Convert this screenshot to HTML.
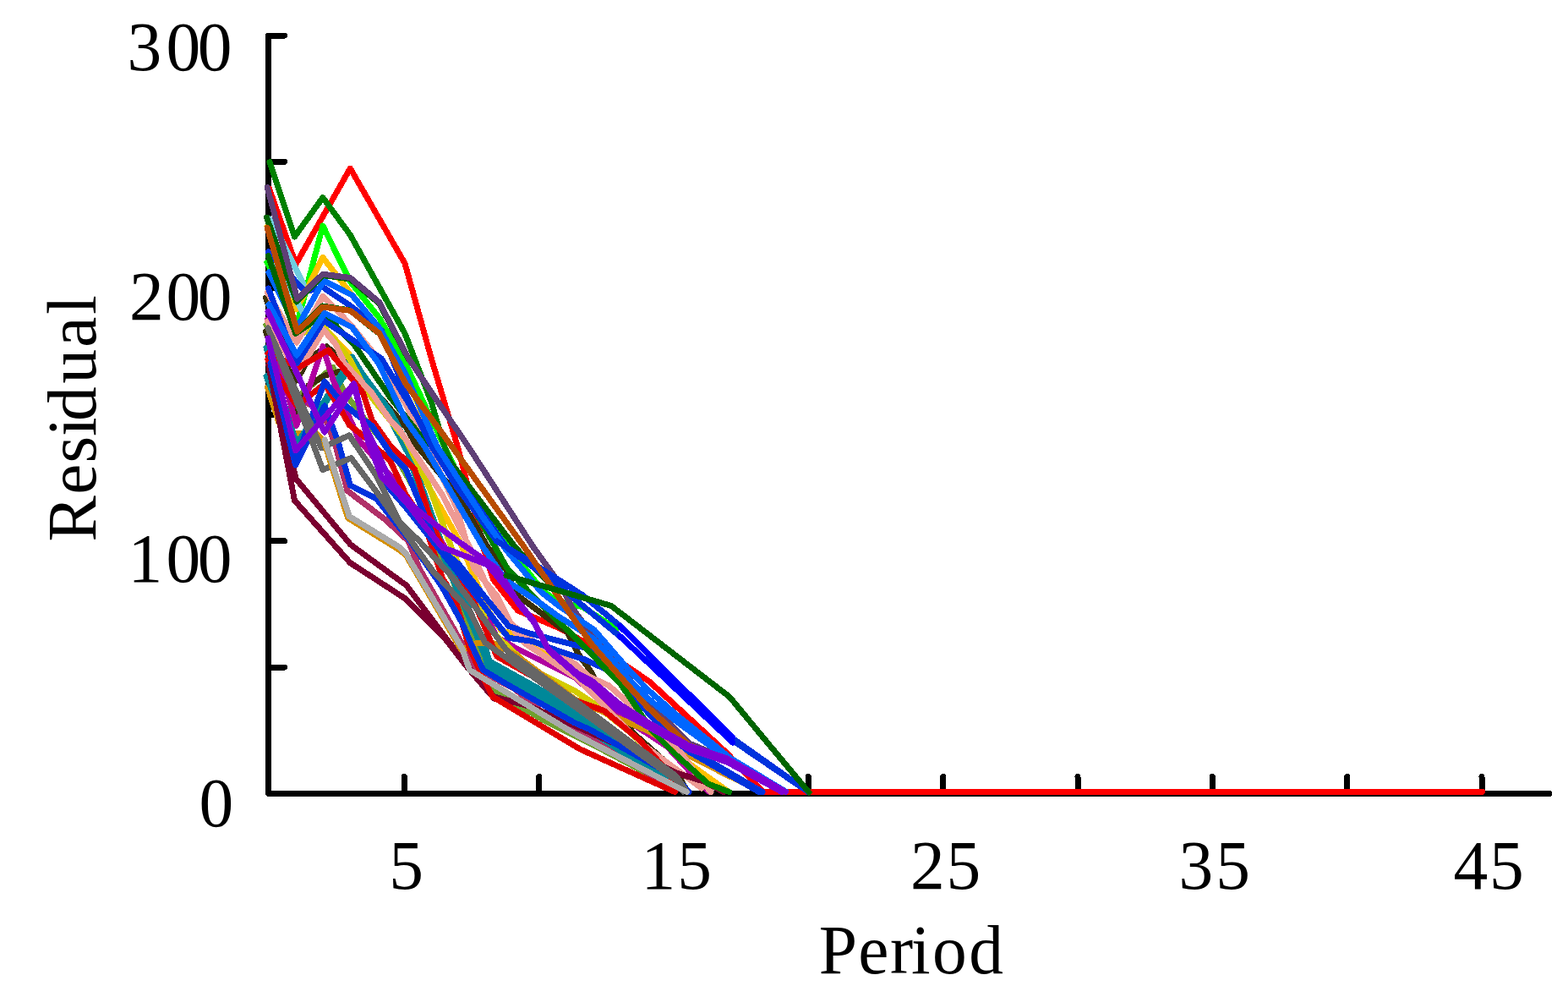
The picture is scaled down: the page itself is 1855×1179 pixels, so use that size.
<!DOCTYPE html>
<html lang="en"><head><meta charset="utf-8"><title>Residual vs Period</title>
<style>html,body{margin:0;padding:0;background:#fff;}body{width:1855px;height:1179px;overflow:hidden;}svg{display:block;}text{font-family:"Liberation Serif","Times New Roman",serif;fill:#000;}.ax{stroke:#000;stroke-width:7;fill:none;stroke-linecap:round;stroke-linejoin:round;shape-rendering:crispEdges;}.s{fill:none;stroke-width:7;stroke-linecap:round;stroke-linejoin:round;shape-rendering:crispEdges;}</style></head><body>
<svg width="1855" height="1179" viewBox="0 0 1855 1179">
<rect width="1855" height="1179" fill="#fff"/>
<g class="ax">
<path d="M336.5 42H317.5V938.4H1832.7"/>
<path d="M317.5 789.0H336.5"/>
<path d="M317.5 639.6H336.5"/>
<path d="M317.5 490.2H336.5"/>
<path d="M317.5 340.8H336.5"/>
<path d="M317.5 191.4H336.5"/>
<path d="M478.4 938.4V918.5"/>
<path d="M637.8 938.4V918.5"/>
<path d="M797.1 938.4V918.5"/>
<path d="M956.4 938.4V918.5"/>
<path d="M1115.7 938.4V918.5"/>
<path d="M1275.0 938.4V918.5"/>
<path d="M1434.4 938.4V918.5"/>
<path d="M1593.7 938.4V918.5"/>
<path d="M1753.0 938.4V918.5"/>
</g>
<g class="s">
<path d="M318.5 223.0 350.0 312.3 414.3 199.1 479.0 311.5 510.3 424.0 542.2 531.0 574.0 655.0 583.5 685.3 612.6 722.0 663.3 743.5 697.7 763.0 733.0 782.0 768.9 806.5 860.0 890.6 902.4 936.4 1753.5 936.4" stroke="#ff0000"/>
<path d="M315.0 384.0 351.0 470.0 393.8 434.5 407.8 464.7 424.0 486.3 472.5 547.0 500.0 595.5 517.7 653.0 536.0 686.4 553.3 737.0 566.3 767.0 571.6 776.2 586.0 818.0 643.0 851.5 707.8 884.0 800.0 933.0" stroke="#70a030"/>
<path d="M316.5 458.0 330.0 500.0 349.0 513.0 373.0 511.0 382.0 520.0" stroke="#d49000"/>
<path d="M318.0 420.0 350.0 470.0 381.9 486.3 397.0 527.0 411.0 580.4 456.3 614.9 483.2 640.0 496.2 672.3 550.0 767.0 564.1 791.3 609.4 815.0 648.5 848.3 707.8 878.5 760.0 910.0 800.0 934.0" stroke="#b03068"/>
<path d="M316.0 310.0 351.0 385.0 381.9 267.0 414.3 333.0 448.8 376.0 480.0 430.2 504.8 484.1 544.7 567.4 571.6 608.4 641.7 698.2 659.0 711.2 689.1 717.7 729.0 743.6" stroke="#00ff00"/>
<path d="M316.0 268.0 350.9 365.8 381.9 304.5 415.4 347.5 448.8 389.0 480.0 444.0 516.0 528.0 560.0 600.0" stroke="#ffc000"/>
<path d="M351.0 420.0 382.0 386.0 414.0 420.0 448.0 470.0 480.0 525.0 512.3 584.7 544.7 641.8 577.0 721.0 593.0 745.7 620.0 753.0 700.0 812.0 815.6 903.3 861.0 935.6" stroke="#ffc000"/>
<path d="M314.4 392.0 351.0 490.0 364.7 456.0 384.0 444.2 416.4 435.6 450.0 470.0 480.0 504.6 493.0 527.0 544.7 590.0 577.0 647.0 601.8 677.7 607.2 700.4 663.3 742.4 670.8 746.8 683.7 772.7 697.7 792.0 722.5 836.7 751.6 869.0 800.0 912.0 812.0 934.0" stroke="#3a3008"/>
<path d="M314.4 352.0 351.0 450.0 364.7 424.8 386.2 409.7 410.0 430.0" stroke="#3a3008"/>
<path d="M315.0 411.0 351.0 525.0 377.6 484.0 403.5 443.0 416.4 422.0 429.4 443.0 461.7 486.3 483.3 527.0 490.8 552.3 528.5 658.3 550.0 709.0 566.3 747.8 573.8 765.0 579.2 782.0 680.0 838.0 718.6 868.0 800.0 926.0" stroke="#008899"/>
<path d="M315.0 445.0 351.0 535.0 370.0 497.0 400.0 455.0 416.4 432.0 429.4 453.0 461.7 496.0 483.3 537.0 490.8 562.0 528.5 668.0 550.0 719.0 566.3 757.0 573.8 770.0 579.2 790.0 680.0 845.0 718.6 873.0 795.0 926.0" stroke="#008899"/>
<path d="M566.3 757.0 573.8 776.0 579.2 797.0 680.0 851.0 718.6 878.0 795.0 928.0" stroke="#008899"/>
<path d="M316.5 378.0 350.7 503.5 381.9 409.7 393.8 448.5 425.0 520.7 451.0 551.0 464.0 564.0 501.6 617.0 523.0 641.8 560.0 700.0 587.8 753.2 609.4 766.0 680.0 801.0 703.0 821.6 742.0 851.8 789.4 883.0 821.7 918.6 839.4 936.5" stroke="#b000a0"/>
<path d="M352.0 396.0 382.5 385.5 414.0 425.0 433.7 462.5 480.0 520.0 507.0 574.0 523.0 617.0 533.9 647.0 546.8 677.7 566.3 709.0 577.0 742.4 631.0 792.3 680.0 817.0 703.0 832.3 746.3 866.8 784.0 904.6 815.0 936.5" stroke="#d4cc00"/>
<path d="M546.0 769.0 565.0 760.0 582.4 760.0 609.4 774.0 680.0 826.8 713.9 842.0 767.8 864.7 811.0 891.6 860.0 916.4 901.3 936.5" stroke="#d49000"/>
<path d="M316.5 346.0 351.0 405.0 381.9 350.6 414.0 383.0 448.0 425.0 480.0 478.0 512.0 540.0 540.0 600.0 560.9 672.3 587.8 704.7 604.0 737.0 631.0 758.6 680.0 784.8 696.7 800.0 720.4 810.8 739.8 828.0 767.8 860.4 800.0 882.0 828.2 921.8 841.0 936.5" stroke="#ee9a94"/>
<path d="M316.5 380.0 351.0 440.0 360.4 428.0 383.0 390.0 397.0 407.0 407.8 430.2 440.0 464.7 461.7 497.0 472.5 507.8 490.8 536.0 523.0 584.7 555.5 647.0 575.0 690.0 600.0 735.0 620.0 760.0 680.0 800.0 760.0 880.0 830.0 932.0" stroke="#ee9a94"/>
<path d="M317.8 428.0 350.0 566.0 414.7 644.0 481.1 692.5 526.4 753.0 554.4 789.6 584.6 824.0 627.0 835.4 670.0 853.7 761.7 894.7 800.0 914.0 832.5 924.0 856.0 936.5" stroke="#7a0030"/>
<path d="M317.8 432.0 348.5 591.9 414.3 665.6 479.0 707.6 526.4 755.0 554.4 791.0 584.6 826.0" stroke="#7a0030"/>
<path d="M317.0 418.0 353.9 434.5 388.4 414.0 418.6 450.7 429.4 464.7 440.2 497.0 461.7 527.0 480.0 544.8 490.8 555.6 507.0 606.3 523.0 647.0 536.0 667.0 555.5 700.4 571.6 737.0 587.8 776.2 684.0 830.0 713.9 840.0 757.0 875.5 784.0 905.7 800.0 927.0 813.0 936.5" stroke="#e00000"/>
<path d="M317.0 425.0 351.0 480.0 384.0 454.0 400.3 479.8 413.2 502.4 433.7 518.6 461.7 545.0 480.0 584.7 493.0 604.0 507.0 634.3 523.0 683.0 538.0 706.8 555.5 767.0 582.4 823.6 686.3 886.0 798.4 936.5" stroke="#e00000"/>
<path d="M320.0 420.0 349.6 544.8 384.0 451.0 403.5 475.5 425.0 492.7 440.0 503.5 461.7 536.0 480.0 554.5 510.0 627.8 517.7 647.0 542.5 667.0 577.0 710.0 601.8 740.3 622.3 747.8 660.0 757.6 692.0 766.0 724.7 792.0 750.6 821.6 789.4 864.7 815.3 886.0 901.9 936.5" stroke="#0033dd"/>
<path d="M320.0 430.0 349.6 550.0 384.0 480.0 400.3 523.2 414.3 573.9 445.6 590.0 485.4 640.0 523.0 694.0 546.8 737.0 559.8 767.0 571.6 792.3 598.6 808.5 680.0 854.9 697.0 862.3 800.0 919.5 815.0 936.5" stroke="#0033dd"/>
<path d="M445.6 560.0 480.0 600.0 520.0 650.0 560.0 700.0 587.8 737.0 601.8 754.3 631.0 758.6 660.0 769.5 692.0 780.0 724.7 795.0 750.6 825.0 789.4 868.0 815.3 889.0 898.0 936.5" stroke="#0033dd"/>
<path d="M319.0 191.6 348.5 280.0 381.9 233.6 414.3 277.8 446.6 336.0 479.0 394.3 510.3 475.5 525.3 527.0 545.0 575.0 600.0 672.0 637.0 712.0 670.8 744.7 703.1 777.0 735.0 810.0 772.0 865.0 800.0 893.0 838.0 927.0 862.5 936.5" stroke="#008000"/>
<path d="M319.0 259.0 336.7 290.7 359.0 336.0" stroke="#70ccdf"/>
<path d="M320.0 304.0 338.8 333.9 362.5 377.0" stroke="#70ccdf"/>
<path d="M349.6 394.3 384.0 371.6 418.6 407.0 461.7 470.0 500.0 518.6 531.8 545.0 609.4 647.0 620.0 658.3 650.0 690.0" stroke="#006400"/>
<path d="M317.4 297.8 361.0 345.0 381.9 339.5 416.4 363.0 451.0 390.0 480.0 466.0 510.2 527.0 540.0 575.0 587.8 640.0" stroke="#0033dd"/>
<path d="M317.5 341.0 351.0 430.0 383.0 379.0 414.0 400.0 451.0 423.7 515.6 529.4 600.0 648.0" stroke="#0033dd"/>
<path d="M318.0 322.0 351.0 388.0 383.0 331.8 416.4 349.0 448.8 387.8 480.0 442.4 516.7 527.0 571.6 612.0 598.6 650.0 640.0 700.0" stroke="#0066ff"/>
<path d="M318.0 360.0 351.0 420.0 384.1 370.3 416.4 387.0 448.0 430.0 480.0 497.0 501.6 527.0 571.6 647.0 598.6 686.4 640.0 714.0" stroke="#0066ff"/>
<path d="M315.5 257.1 351.0 357.0 381.9 325.5 414.3 330.0 448.8 359.0 483.3 425.0" stroke="#006400"/>
<path d="M317.3 302.6 349.6 394.3 381.5 362.0 414.0 367.0 448.0 394.0" stroke="#006400"/>
<path d="M316.2 221.7 351.7 353.3 381.9 324.2 414.3 328.5 448.8 357.6 483.3 424.0 553.3 527.0 631.0 647.0 663.3 691.8 676.2 717.7 707.0 760.0 773.0 836.0 815.3 879.0 860.0 897.5 928.0 936.5" stroke="#5f3f76"/>
<path d="M587.8 640.0 639.6 672.0 689.1 703.7 733.3 740.0 867.4 873.7 957.0 937.0" stroke="#0033dd"/>
<path d="M600.0 648.0 660.0 692.0 733.3 752.5 867.4 876.0 957.0 937.0" stroke="#0033dd"/>
<path d="M733.3 740.4 866.8 872.0" stroke="#0000ff"/>
<path d="M733.3 752.2 866.8 878.0" stroke="#0000ff"/>
<path d="M640.0 700.0 660.0 715.6 703.1 745.0 746.3 795.0 767.8 817.0 800.0 845.0 864.7 897.0 929.4 936.0" stroke="#0066ff"/>
<path d="M640.0 714.0 660.0 728.5 703.1 756.0 746.3 806.0 767.8 827.0 800.0 853.0 864.7 900.0 925.0 936.0" stroke="#0066ff"/>
<path d="M316.2 269.4 351.7 392.0 381.9 363.0 414.3 367.3 448.8 394.2 480.0 453.9 533.9 527.0 620.2 647.0 680.0 733.8 701.5 764.0 765.7 836.0 815.3 881.5 860.0 898.0 928.0 936.5" stroke="#b84c00"/>
<path d="M317.0 388.0 370.0 524.0 381.9 555.6 415.4 541.6 448.0 585.0 477.9 627.8 512.3 675.6 555.5 722.0 573.8 760.0 680.0 835.5 800.0 922.7 808.0 936.0" stroke="#666666"/>
<path d="M317.0 388.0 380.3 529.7 413.2 514.8 445.6 563.1 472.5 617.0 496.2 640.0 533.9 681.0 560.0 715.0 600.0 770.0 680.0 828.0 800.0 918.0 812.0 936.0" stroke="#666666"/>
<path d="M384.0 524.0 411.5 612.5 470.5 649.0 480.0 656.0 546.0 769.0" stroke="#d49000"/>
<path d="M384.1 520.0 413.2 610.6 472.5 647.0 480.0 654.0 546.8 767.0 555.5 792.3 680.0 867.8 800.0 930.3 812.4 936.5" stroke="#aaaaaa"/>
<path d="M317.0 400.0 349.6 532.9 418.6 453.9 434.8 520.0 451.0 563.1 480.0 593.3 507.0 627.8 523.0 647.0 577.0 668.0 631.0 733.8 648.2 767.0 683.7 797.0 700.0 805.0 733.3 833.0 767.8 855.0 815.3 882.0 860.0 897.0 929.4 936.5" stroke="#7f00d4"/>
<path d="M317.0 368.6 384.0 511.0 419.7 456.0 430.0 500.0 443.0 527.0 460.0 565.0 490.0 600.0 517.7 622.4 544.7 642.0 587.8 672.3 614.8 715.5 631.0 734.9 650.0 770.0 690.0 805.0 700.0 811.0 730.0 839.0 767.8 860.0 815.3 886.0 860.0 901.0 925.0 936.5" stroke="#7f00d4"/>
<path d="M599.0 680.5 600.8 681.0 722.9 716.3 863.1 824.1 912.7 884.0 957.0 937.0" stroke="#006400"/>
</g>
<text x="150.6 196.6 233.8" y="83.1" font-size="81.5">300</text>
<text x="153.0 196.6 233.8" y="378.0" font-size="81.5">200</text>
<text x="151.4 196.6 233.8" y="688.1" font-size="81.5">100</text>
<text x="235.5" y="977.3" font-size="81.5">0</text>
<text x="460.3" y="1051.2" font-size="81.5">5</text>
<text x="758.4 801.3" y="1051.2" font-size="81.5">15</text>
<text x="1077.0 1119.4" y="1051.2" font-size="81.5">25</text>
<text x="1394.6 1438.3" y="1051.2" font-size="81.5">35</text>
<text x="1719.4 1762.1" y="1051.2" font-size="81.5">45</text>
<text x="968.7 1015.3 1052.9 1078.1 1103.0 1146.2" y="1150.9" font-size="81.5">Period</text>
<text transform="translate(112.8,642) rotate(-90)" x="1.5 57.3 94.4 126.1 144.1 188.4 231.2 270.2" y="0" font-size="81.5">Residual</text>
</svg></body></html>
